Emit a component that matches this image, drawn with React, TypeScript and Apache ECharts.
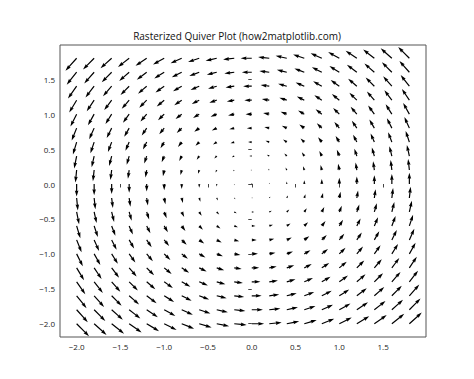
import React, { useEffect, useRef } from "react";
import * as echarts from "echarts";

// Grid positions (data units)
const xs = [-2.0, -1.8, -1.6, -1.4, -1.2, -1.0, -0.8, -0.6, -0.4, -0.2, 0.0, 0.2, 0.4, 0.6, 0.8, 1.0, 1.2, 1.4, 1.6, 1.8];
const ys = [-2.0, -1.8, -1.6, -1.4, -1.2, -1.0, -0.8, -0.6, -0.4, -0.2, 0.0, 0.2, 0.4, 0.6, 0.8, 1.0, 1.2, 1.4, 1.6, 1.8];
// Horizontal arrow component for each row (by y)
const uByRow = [2.0, 1.8, 1.6, 1.4, 1.2, 1.0, 0.8, 0.6, 0.4, 0.2, 0.0, -0.2, -0.4, -0.6, -0.8, -1.0, -1.2, -1.4, -1.6, -1.8];
// Vertical arrow component for each column (by x)
const vByCol = [-2.0, -1.8, -1.6, -1.4, -1.2, -1.0, -0.8, -0.6, -0.4, -0.2, 0.0, 0.2, 0.4, 0.6, 0.8, 1.0, 1.2, 1.4, 1.6, 1.8];
// Tick labels
const xTicks = [-2.0, -1.5, -1.0, -0.5, 0.0, 0.5, 1.0, 1.5];
const yTicks = [-2.0, -1.5, -1.0, -0.5, 0.0, 0.5, 1.0, 1.5];

const TITLE = "Rasterized Quiver Plot (how2matplotlib.com)";
const FONT = "'Open Sans', 'Noto Sans', sans-serif";

const fmt = (v: number) => {
  const s = Number(v).toFixed(1);
  return s.startsWith("-") ? "\u2212" + s.slice(1) : s;
};

export default function App() {
  const ref = useRef<HTMLDivElement>(null);
  useEffect(() => {
    if (!ref.current) return;
    const chart = echarts.init(ref.current, undefined, { renderer: "svg" });

    const data: number[][] = [];
    ys.forEach((y, j) => {
      xs.forEach((x, i) => {
        data.push([x, y, uByRow[j], vByCol[i]]);
      });
    });

    const PX = 6.2; // pixels per unit of vector magnitude
    const W = 1.2; // shaft width in px
    const HL = 5, HAL = 4.5, HW = 3, MINSH = 5, MINLEN = 1;

    const option: any = {
      animation: false,
      title: {
        text: TITLE,
        left: "center",
        top: 31,
        padding: 0,
        textStyle: { fontSize: 10, fontWeight: "normal", color: "#111", fontFamily: FONT },
      },
      grid: {
        left: 60,
        right: 48,
        top: 45,
        bottom: 42,
        show: true,
        borderColor: "#555",
        borderWidth: 1,
        backgroundColor: "transparent",
      },
      xAxis: {
        type: "value",
        min: -2.19,
        max: 1.99,
        axisLine: { show: false },
        splitLine: { show: false },
        axisTick: { show: true, length: 3.5, lineStyle: { color: "#444" }, customValues: xTicks },
        axisLabel: { fontSize: 8, color: "#222", fontFamily: FONT, margin: 5, customValues: xTicks, formatter: fmt },
      },
      yAxis: {
        type: "value",
        min: -2.19,
        max: 1.99,
        axisLine: { show: false },
        splitLine: { show: false },
        axisTick: { show: true, length: 3.5, lineStyle: { color: "#444" }, customValues: yTicks },
        axisLabel: { fontSize: 8, color: "#222", fontFamily: FONT, margin: 5, customValues: yTicks, formatter: fmt },
      },
      series: [
        {
          type: "custom",
          data,
          clip: false,
          renderItem: (params: any, api: any) => {
            const x = api.value(0), y = api.value(1), u = api.value(2), v = api.value(3);
            const p = api.coord([x, y]);
            const dx = u * PX, dy = -v * PX;
            const Lpx = Math.hypot(dx, dy);
            const ang = Math.atan2(dy, dx);
            const L = Lpx / W;
            let pts: number[][];
            if (L < MINLEN) {
              pts = [];
              for (let k = 0; k < 6; k++) {
                const th = (k * Math.PI) / 3;
                pts.push([Math.cos(th) * MINLEN * 0.5, Math.sin(th) * MINLEN * 0.5]);
              }
            } else if (L < MINSH) {
              const s = L / MINSH;
              pts = [
                [0, 0.5], [MINSH - HAL, 0.5], [MINSH - HL, HW / 2], [MINSH, 0],
                [MINSH - HL, -HW / 2], [MINSH - HAL, -0.5], [0, -0.5],
              ].map(([a, b]) => [a * s, b * s]);
            } else {
              pts = [
                [0, 0.5], [L - HAL, 0.5], [L - HL, HW / 2], [L, 0],
                [L - HL, -HW / 2], [L - HAL, -0.5], [0, -0.5],
              ];
            }
            const c = Math.cos(ang), s = Math.sin(ang);
            const points = pts.map(([a, b]) => {
              const px = a * W, py = b * W;
              return [p[0] + px * c - py * s, p[1] + px * s + py * c];
            });
            return {
              type: "polygon",
              shape: { points },
              style: { fill: "#000" },
            };
          },
        },
      ],
    };
    chart.setOption(option);
    return () => chart.dispose();
  }, []);

  return (
    <div
      ref={ref}
      style={{ position: "fixed", left: 0, top: 0, width: 474, height: 379, background: "#fff" }}
    />
  );
}
